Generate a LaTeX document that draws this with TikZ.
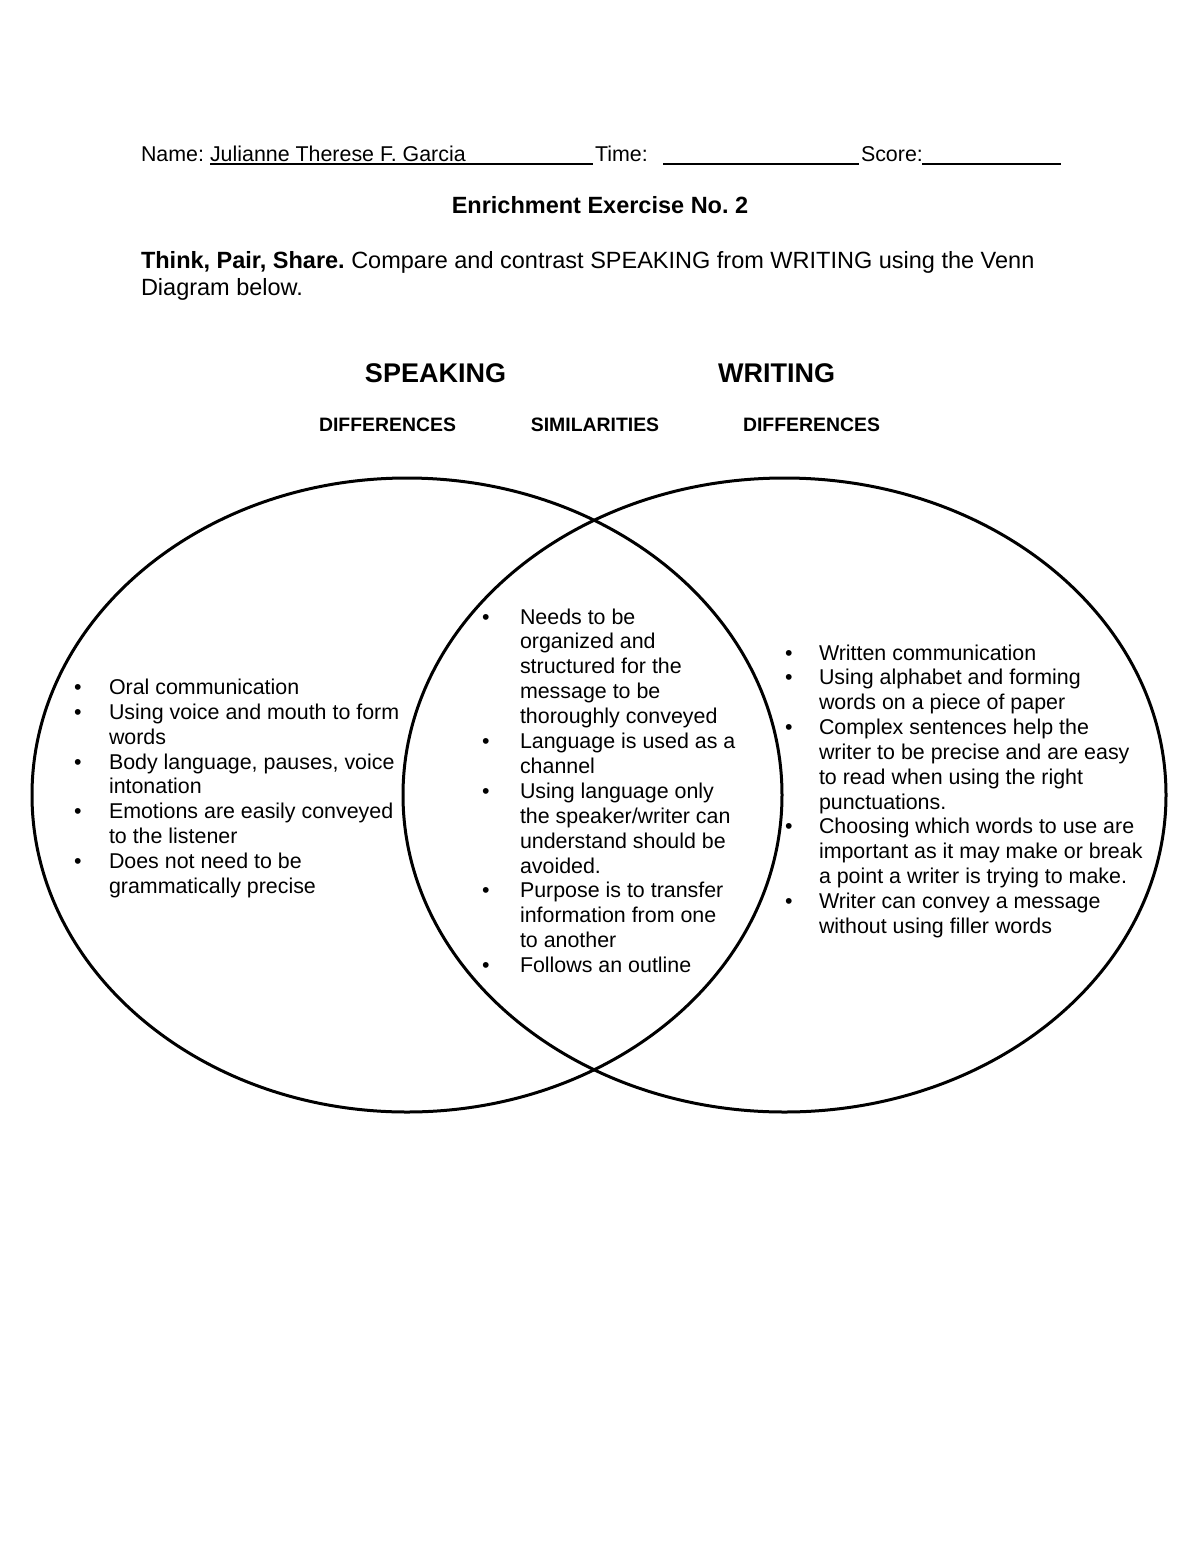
\documentclass[tikz,border=0pt]{standalone}
\usepackage{fontspec}
\setmainfont{Liberation Sans}
\usetikzlibrary{shapes.geometric}
\frenchspacing
\begin{document}
\frenchspacing
\begin{tikzpicture}[x=1pt,y=-1pt,
  body/.style={font=\frenchspacing\fontsize{21.4}{24.85}\selectfont, inner sep=0pt, outer sep=0pt, anchor=base west},
  bodyl/.style={body, font=\frenchspacing\fontsize{23.5}{27}\selectfont},
  bodylb/.style={body, font=\frenchspacing\bfseries\fontsize{23.5}{27}\selectfont},
  bigb/.style={font=\bfseries\fontsize{27}{30}\selectfont, inner sep=0pt, anchor=base},
  smallb/.style={font=\bfseries\fontsize{19.4}{22}\selectfont, inner sep=0pt, anchor=base},
  uline/.style={line width=1.8pt},
  venn/.style={draw, ellipse, line width=3pt, inner sep=0pt},
  bulletmark/.style={body}]
\useasboundingbox[fill=white] (0,0) rectangle (1200,1553);

% header
\node[body] (name) at (141,161) {Name:};
\node[body] (student) at (210,161) {Julianne Therese F. Garcia};
\coordinate (nameEnd) at (593,164);
\draw[uline] ([yshift=-3pt]student.base west) -- (nameEnd);
\node[body] (time) at (595,161) {Time:};
\coordinate (timeA) at (663,164);
\coordinate (timeB) at (859,164);
\draw[uline] (timeA) -- (timeB);
\node[body] (score) at (861,161) {Score:};
\coordinate (scoreA) at (922,164);
\coordinate (scoreB) at (1061,164);
\draw[uline] (scoreA) -- (scoreB);

\node[bodylb, anchor=base] (title) at (600,213) {Enrichment Exercise No. 2};
\node[bodyl] (inst1) at (141,268) {\textbf{Think, Pair, Share.} Compare and contrast SPEAKING from WRITING using the Venn};
\node[bodyl] (inst2) at (141,295) {Diagram below.};

\node[bigb] (speaking) at (435.5,382) {SPEAKING};
\node[bigb] (writing) at (776.5,382) {WRITING};
\node[smallb] (diffL) at (387.5,431) {DIFFERENCES};
\node[smallb] (sim) at (595,431) {SIMILARITIES};
\node[smallb] (diffR) at (811.5,431) {DIFFERENCES};

% Venn circles
\node[venn, minimum width=750pt, minimum height=634pt] (spk) at (407,795) {};
\node[venn, minimum width=763pt, minimum height=634pt] (wrt) at (784.5,795) {};

% left list
\foreach \b/\t [count=\i from 0] in {
  1/{Oral communication},
  1/{Using voice and mouth to form},
  0/{words},
  1/{Body language, pauses, voice},
  0/{intonation},
  1/{Emotions are easily conveyed},
  0/{to the listener},
  1/{Does not need to be},
  0/{grammatically precise}}{
  \node[body] (left\i) at (109,{694.5+24.85*\i}) {\t};
  \ifnum\b=1 \node[bulletmark] (leftb\i) at (74,{694.5+24.85*\i}) {•};\fi
}

% middle list
\foreach \b/\t [count=\i from 0] in {
  1/{Needs to be},
  0/{organized and},
  0/{structured for the},
  0/{message to be},
  0/{thoroughly conveyed},
  1/{Language is used as a},
  0/{channel},
  1/{Using language only},
  0/{the speaker/writer can},
  0/{understand should be},
  0/{avoided.},
  1/{Purpose is to transfer},
  0/{information from one},
  0/{to another},
  1/{Follows an outline}}{
  \node[body] (mid\i) at (520,{624+24.9*\i}) {\t};
  \ifnum\b=1 \node[bulletmark] (midb\i) at (482,{624+24.9*\i}) {•};\fi
}

% right list
\foreach \b/\t [count=\i from 0] in {
  1/{Written communication},
  1/{Using alphabet and forming},
  0/{words on a piece of paper},
  1/{Complex sentences help the},
  0/{writer to be precise and are easy},
  0/{to read when using the right},
  0/{punctuations.},
  1/{Choosing which words to use are},
  0/{important as it may make or break},
  0/{a point a writer is trying to make.},
  1/{Writer can convey a message},
  0/{without using filler words}}{
  \node[body] (right\i) at (819,{660+24.85*\i}) {\t};
  \ifnum\b=1 \node[bulletmark] (rightb\i) at (785,{660+24.85*\i}) {•};\fi
}
\end{tikzpicture}
\end{document}
